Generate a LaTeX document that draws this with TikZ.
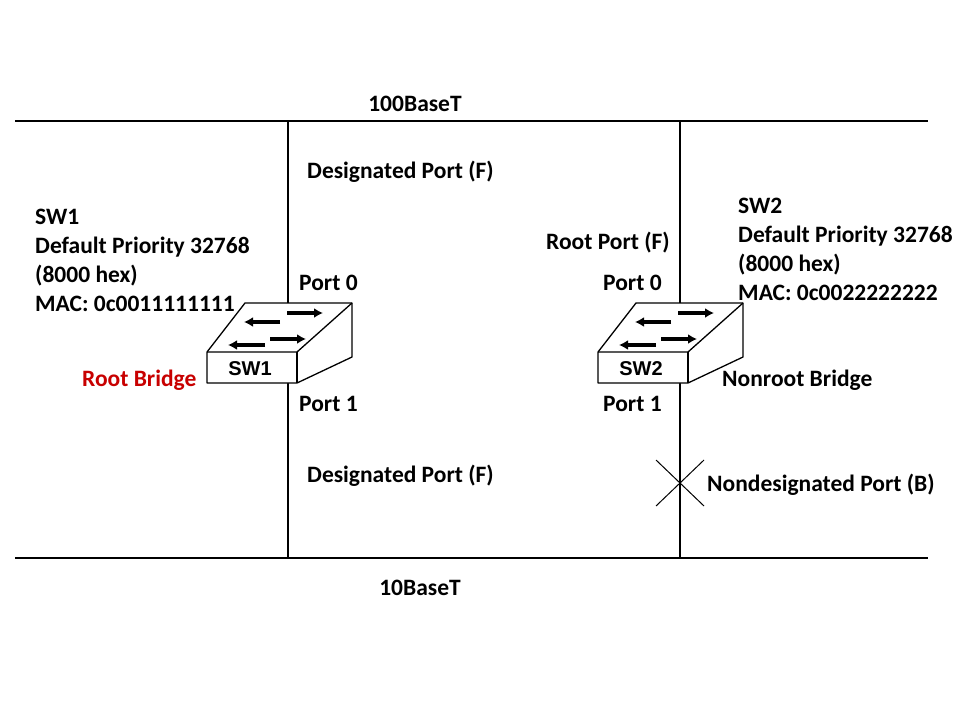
\documentclass[tikz,border=0pt]{standalone}
\usepackage{fontspec}
\setmainfont{Carlito}
\newfontfamily\arialf{Liberation Sans}
\begin{document}
\begin{tikzpicture}[x=1pt,y=-1pt,
  lbl/.style={anchor=west,inner sep=0pt,font=\fontsize{23.5}{29}\selectfont\bfseries},
  ln/.style={line width=1.3pt},
  ar/.style={line width=4pt,-{Latex[length=9pt,width=10pt]}}]
\usetikzlibrary{arrows.meta}
\useasboundingbox (0,0) rectangle (960,720);
\fill[white] (0,0) rectangle (960,720);
\coordinate (tl) at (15,121); \coordinate (tr) at (928,121);
\coordinate (bl) at (15,558); \coordinate (br) at (928,558);
\draw[ln] (tl) -- (tr); \draw[ln] (bl) -- (br);
\coordinate (a1) at (288,121); \coordinate (a2) at (288,558);
\coordinate (b1) at (680,121); \coordinate (b2) at (680,558);
\draw[ln] (a1) -- (a2); \draw[ln] (b1) -- (b2);
\foreach \dx/\nm in {0/SW1,391/SW2}{
 \begin{scope}[xshift=\dx]
 \draw[ln,fill=white,line join=round] (207,352) -- (245,303) -- (352,303) -- (352,357) -- (297,383) -- (207,383) -- cycle;
 \draw[ln] (207,352) -- (297,352) -- (352,303);
 \draw[ln] (297,352) -- (297,383);
 \draw[ar] (287,313) -- (323,313);
 \draw[ar] (280,322) -- (244,322);
 \draw[ar] (270,339) -- (306,339);
 \draw[ar] (265,345) -- (228,345);
 \node[font=\arialf\fontsize{20}{22}\selectfont\bfseries] at (250,369) {\nm};
 \end{scope}}
\coordinate (x1) at (656,460); \coordinate (x2) at (704,506);
\coordinate (x3) at (704,460); \coordinate (x4) at (656,506);
\draw[line width=1pt] (x1) -- (x2); \draw[line width=1pt] (x3) -- (x4);
\node[lbl,anchor=center] (n100) at (415,104) {100BaseT};
\node[lbl,anchor=center] (n10) at (420,588) {10BaseT};
\node[lbl] (d1) at (307,172) {Designated Port (F)};
\node[lbl] (d2) at (307,476) {Designated Port (F)};
\node[lbl,align=left,anchor=north west] (s1) at (35,209) {SW1\\Default Priority 32768\\(8000 hex)\\MAC: 0c0011111111};
\node[lbl,align=left,anchor=north west] (s2) at (738,198) {SW2\\Default Priority 32768\\(8000 hex)\\MAC: 0c0022222222};
\node[lbl] (p10) at (299,283) {Port 0};
\node[lbl] (p11) at (299,404) {Port 1};
\node[lbl] (p20) at (603,283) {Port 0};
\node[lbl] (p21) at (603,404) {Port 1};
\node[lbl,text={rgb,255:red,200;green,0;blue,0}] (rb) at (82,380) {Root Bridge};
\node[lbl] (rp) at (546,243) {Root Port (F)};
\node[lbl] (nb) at (722,380) {Nonroot Bridge};
\node[lbl] (nd) at (707,485) {Nondesignated Port (B)};
\end{tikzpicture}
\end{document}
